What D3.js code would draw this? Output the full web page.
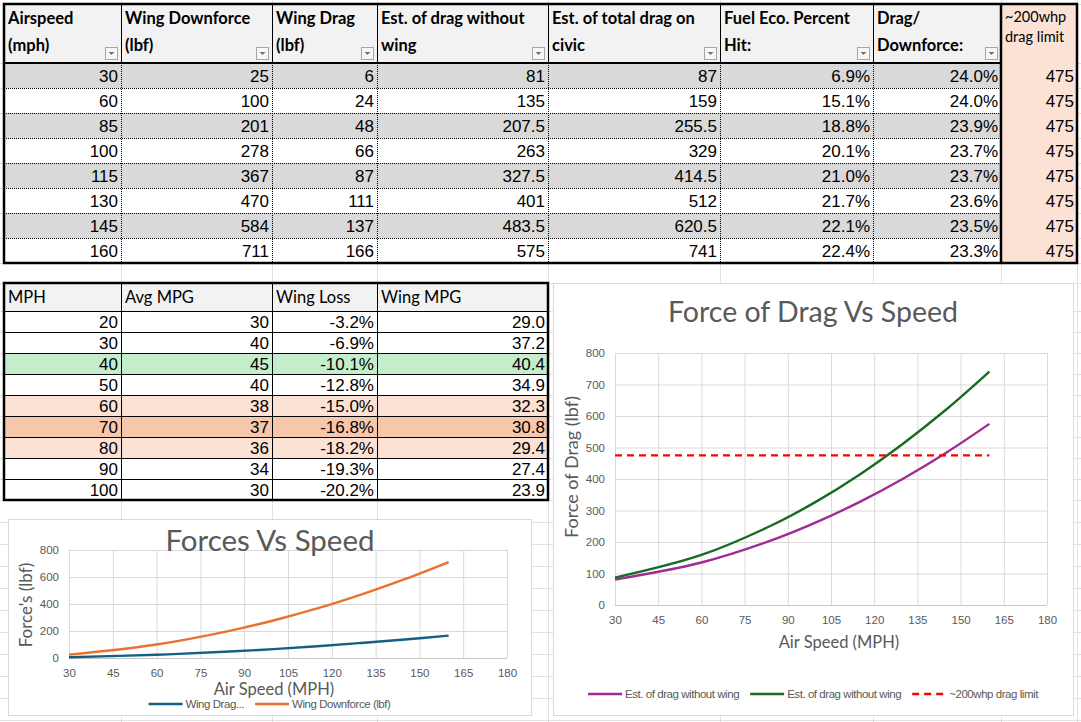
<!DOCTYPE html>
<html>
<head>
<meta charset="utf-8">
<script src="https://cdn.jsdelivr.net/npm/d3@7"></script>
<style>
  body { margin: 0; background: #fff; }
  svg { display: block; }
</style>
</head>
<body>
<svg id="sheet" width="1081" height="722"></svg>
<script>
// ---- top table data ----
const airspeed = [30, 60, 85, 100, 115, 130, 145, 160];
const wingDownforce = [25, 100, 201, 278, 367, 470, 584, 711];
const wingDrag = [6, 24, 48, 66, 87, 111, 137, 166];
const dragWithoutWing = [81, 135, 207.5, 263, 327.5, 401, 483.5, 575];
const totalDrag = [87, 159, 255.5, 329, 414.5, 512, 620.5, 741];
const fuelEcoHit = [6.9, 15.1, 18.8, 20.1, 21.0, 21.7, 22.1, 22.4];
const dragPerDownforce = [24.0, 24.0, 23.9, 23.7, 23.7, 23.6, 23.5, 23.3];
const dragLimit = [475, 475, 475, 475, 475, 475, 475, 475];
const topHeaders = [
  ["Airspeed", "(mph)"],
  ["Wing Downforce", "(lbf)"],
  ["Wing Drag", "(lbf)"],
  ["Est. of drag without", "wing"],
  ["Est. of total drag on", "civic"],
  ["Fuel Eco. Percent", "Hit:"],
  ["Drag/", "Downforce:"],
  ["~200whp", "drag limit"]
];

// ---- mpg table data ----
const mph = [20, 30, 40, 50, 60, 70, 80, 90, 100];
const avgMpg = [30, 40, 45, 40, 38, 37, 36, 34, 30];
const wingLoss = [-3.2, -6.9, -10.1, -12.8, -15.0, -16.8, -18.2, -19.3, -20.2];
const wingMpg = [29.0, 37.2, 40.4, 34.9, 32.3, 30.8, 29.4, 27.4, 23.9];
const mpgHeaders = ["MPH", "Avg MPG", "Wing Loss", "Wing MPG"];

// ---- chart labels ----
const xTicks = [30, 45, 60, 75, 90, 105, 120, 135, 150, 165, 180];
const forcesTicks = [0, 200, 400, 600, 800];
const dragTicks = [0, 100, 200, 300, 400, 500, 600, 700, 800];
const forcesNames = ["Wing Drag...", "Wing Downforce (lbf)"];
const dragNames = ["Est. of drag without wing", "Est. of drag without wing", "~200whp drag limit"];

const svg = d3.select("#sheet");
const HEAD = "Lato, 'Noto Sans', sans-serif";
const NUM = "'Liberation Sans', Arial, sans-serif";

// spreadsheet gridlines
const gridCols = [121, 272, 377, 548, 720, 873, 1001, 1077];
const gridRows = [4].concat(d3.range(63, 264, 25), [283], d3.range(311, 501, 21), d3.range(522, 721, 22));
const grid = svg.append("g").attr("stroke", "#e1e1e1").attr("stroke-width", 1);
grid.selectAll(".gc").data(gridCols).enter().append("line")
  .attr("x1", d => d + 0.5).attr("x2", d => d + 0.5).attr("y1", 0).attr("y2", 722);
grid.selectAll(".gr").data(gridRows).enter().append("line")
  .attr("x1", 0).attr("x2", 1081).attr("y1", d => d + 0.5).attr("y2", d => d + 0.5);

// ================= top table =================
const tCols = [4, 121, 272, 377, 548, 720, 873, 1001, 1077];
const tTop = 4, tHeadBottom = 63, tRowH = 25;
const tBottom = tHeadBottom + tRowH * airspeed.length;
const pct = d => d.toFixed(1) + "%";
const topColumns = [
  { values: airspeed, fmt: d => d },
  { values: wingDownforce, fmt: d => d },
  { values: wingDrag, fmt: d => d },
  { values: dragWithoutWing, fmt: d => d },
  { values: totalDrag, fmt: d => d },
  { values: fuelEcoHit, fmt: pct },
  { values: dragPerDownforce, fmt: pct },
  { values: dragLimit, fmt: d => d }
];
const topTable = svg.append("g");
topTable.append("rect").attr("x", tCols[0]).attr("y", tTop)
  .attr("width", tCols[7] - tCols[0]).attr("height", tHeadBottom - tTop).attr("fill", "#f2f2f2");
topTable.selectAll(".rowbg").data(airspeed).enter().append("rect")
  .attr("x", tCols[0]).attr("y", (d, i) => tHeadBottom + i * tRowH)
  .attr("width", tCols[7] - tCols[0]).attr("height", tRowH)
  .attr("fill", (d, i) => i % 2 === 0 ? "#d9d9d9" : "#ffffff");
topTable.append("rect").attr("x", tCols[7]).attr("y", tTop)
  .attr("width", tCols[8] - tCols[7]).attr("height", tBottom - tTop).attr("fill", "#fbe2d5");

// dotted separators in body
topTable.selectAll(".hdot").data(d3.range(1, airspeed.length)).enter().append("line")
  .attr("x1", tCols[0]).attr("x2", tCols[7])
  .attr("y1", d => tHeadBottom + d * tRowH + 0.5).attr("y2", d => tHeadBottom + d * tRowH + 0.5)
  .attr("stroke", "#000").attr("stroke-dasharray", "1,1");
topTable.selectAll(".vdot").data(tCols.slice(1, 7)).enter().append("line")
  .attr("x1", d => d + 0.5).attr("x2", d => d + 0.5).attr("y1", tHeadBottom).attr("y2", tBottom)
  .attr("stroke", "#000").attr("stroke-dasharray", "1,1");
// header separators
topTable.selectAll(".vhead").data(tCols.slice(1, 7)).enter().append("line")
  .attr("x1", d => d + 0.5).attr("x2", d => d + 0.5).attr("y1", tTop).attr("y2", tHeadBottom)
  .attr("stroke", "#000").attr("stroke-width", 1);
topTable.append("line").attr("x1", tCols[0]).attr("x2", tCols[7]).attr("y1", tHeadBottom).attr("y2", tHeadBottom)
  .attr("stroke", "#000").attr("stroke-width", 2);

// header text
topHeaders.forEach((lines, c) => {
  const last = c === 7;
  topTable.append("g").selectAll("text").data(lines).enter().append("text")
    .attr("x", tCols[c] + 4)
    .attr("y", (d, i) => last ? 22 + i * 20 : 24 + i * 27)
    .attr("font-family", HEAD)
    .attr("font-weight", last ? 400 : 700)
    .attr("font-size", last ? 14.5 : 16.5)
    .attr("fill", "#000")
    .text(d => d);
});
// filter buttons
const btn = topTable.selectAll(".btn").data(tCols.slice(1, 8)).enter().append("g")
  .attr("transform", d => `translate(${d - 16},47)`);
btn.append("rect").attr("x", 0.5).attr("y", 0.5).attr("width", 12).attr("height", 12)
  .attr("fill", "#f7f7f7").attr("stroke", "#a6a6a6");
btn.append("path").attr("d", "M3.5,5 L9.5,5 L6.5,8 Z").attr("fill", "#737373");

// body numbers
topColumns.forEach((col, c) => {
  topTable.append("g").selectAll("text").data(col.values).enter().append("text")
    .attr("x", tCols[c + 1] - 3)
    .attr("y", (d, i) => tHeadBottom + i * tRowH + tRowH / 2)
    .attr("dy", "0.36em")
    .attr("text-anchor", "end")
    .attr("font-family", NUM).attr("font-size", 17).attr("fill", "#000")
    .text(d => col.fmt(d));
});
// thick borders
topTable.append("rect").attr("x", tCols[0]).attr("y", tTop)
  .attr("width", tCols[8] - tCols[0]).attr("height", tBottom - tTop)
  .attr("fill", "none").attr("stroke", "#000").attr("stroke-width", 2.5);
topTable.append("line").attr("x1", tCols[7]).attr("x2", tCols[7]).attr("y1", tTop).attr("y2", tBottom)
  .attr("stroke", "#000").attr("stroke-width", 2.5);

// ================= mpg table =================
const mCols = [4, 121, 272, 377, 548];
const mTop = 283, mHeadBottom = 311, mRowH = 21;
const mBottom = mHeadBottom + mRowH * mph.length;
const rowFill = { 40: "#c4eecb", 60: "#fbe2d5", 70: "#f7c7ac", 80: "#fbe2d5" };
const mpgColumns = [
  { values: mph, fmt: d => d },
  { values: avgMpg, fmt: d => d },
  { values: wingLoss, fmt: d => d.toFixed(1) + "%" },
  { values: wingMpg, fmt: d => d.toFixed(1) }
];
const mt = svg.append("g");
mt.append("rect").attr("x", mCols[0]).attr("y", mTop)
  .attr("width", mCols[4] - mCols[0]).attr("height", mHeadBottom - mTop).attr("fill", "#f2f2f2");
mt.selectAll(".rowbg").data(mph).enter().append("rect")
  .attr("x", mCols[0]).attr("y", (d, i) => mHeadBottom + i * mRowH)
  .attr("width", mCols[4] - mCols[0]).attr("height", mRowH)
  .attr("fill", d => rowFill[d] || "#ffffff");
mt.selectAll(".hl").data(d3.range(0, mph.length)).enter().append("line")
  .attr("x1", mCols[0]).attr("x2", mCols[4])
  .attr("y1", d => mHeadBottom + d * mRowH + 0.5).attr("y2", d => mHeadBottom + d * mRowH + 0.5)
  .attr("stroke", "#000");
mt.selectAll(".vl").data(mCols.slice(1, 4)).enter().append("line")
  .attr("x1", d => d + 0.5).attr("x2", d => d + 0.5).attr("y1", mTop).attr("y2", mBottom)
  .attr("stroke", "#000");
mt.selectAll(".mh").data(mpgHeaders).enter().append("text")
  .attr("x", (d, i) => mCols[i] + 4).attr("y", (mTop + mHeadBottom) / 2).attr("dy", "0.36em")
  .attr("font-family", HEAD).attr("font-size", 16.5).attr("fill", "#000")
  .text(d => d);
mpgColumns.forEach((col, c) => {
  mt.append("g").selectAll("text").data(col.values).enter().append("text")
    .attr("x", mCols[c + 1] - 3)
    .attr("y", (d, i) => mHeadBottom + i * mRowH + mRowH / 2)
    .attr("dy", "0.36em")
    .attr("text-anchor", "end")
    .attr("font-family", NUM).attr("font-size", 17).attr("fill", "#000")
    .text(d => col.fmt(d));
});
mt.append("rect").attr("x", mCols[0]).attr("y", mTop)
  .attr("width", mCols[4] - mCols[0]).attr("height", mBottom - mTop)
  .attr("fill", "none").attr("stroke", "#000").attr("stroke-width", 2.5);

// ================= charts =================
function drawChart(o) {
  const g = svg.append("g");
  g.append("rect").attr("x", o.box[0] + 0.5).attr("y", o.box[1] + 0.5)
    .attr("width", o.box[2] - o.box[0]).attr("height", o.box[3] - o.box[1])
    .attr("fill", "#fff").attr("stroke", "#d9d9d9");

  const x = d3.scaleLinear().domain([30, 180]).range([o.plot[0], o.plot[2]]);
  const y = d3.scaleLinear().domain([0, 800]).range([o.plot[3], o.plot[1]]);

  // gridlines
  g.append("g").attr("transform", `translate(0,${o.plot[3]})`)
    .call(d3.axisBottom(x).tickValues(xTicks).tickSize(o.plot[1] - o.plot[3]).tickFormat(""))
    .call(a => a.select(".domain").remove())
    .call(a => a.selectAll("line").attr("stroke", "#d9d9d9"));
  g.append("g").attr("transform", `translate(${o.plot[0]},0)`)
    .call(d3.axisLeft(y).tickValues(o.yTicks).tickSize(o.plot[0] - o.plot[2]).tickFormat(""))
    .call(a => a.select(".domain").remove())
    .call(a => a.selectAll("line").attr("stroke", "#d9d9d9"));
  g.append("line").attr("x1", o.plot[0]).attr("x2", o.plot[2])
    .attr("y1", o.plot[3] + 0.5).attr("y2", o.plot[3] + 0.5).attr("stroke", "#c6c6c6");

  // tick labels
  g.append("g").attr("transform", `translate(0,${o.plot[3]})`)
    .call(d3.axisBottom(x).tickValues(xTicks).tickSize(0).tickPadding(15))
    .call(a => a.select(".domain").remove())
    .call(a => a.selectAll("text").attr("font-family", NUM).attr("font-size", 11.5)
      .attr("fill", "#595959").attr("dy", "0.36em").attr("y", 15));
  g.append("g").attr("transform", `translate(${o.plot[0]},0)`)
    .call(d3.axisLeft(y).tickValues(o.yTicks).tickSize(0).tickPadding(10))
    .call(a => a.select(".domain").remove())
    .call(a => a.selectAll("text").attr("font-family", NUM).attr("font-size", 11.5).attr("fill", "#595959"));

  // titles
  g.append("text").attr("x", o.titleXY[0]).attr("y", o.titleXY[1]).attr("text-anchor", "middle")
    .attr("font-family", HEAD).attr("font-size", o.titleSize).attr("fill", "#595959").text(o.title);
  g.append("text").attr("x", (o.plot[0] + o.plot[2]) / 2 + o.xTitleDx).attr("y", o.xTitleY)
    .attr("text-anchor", "middle").attr("font-family", HEAD).attr("font-size", 16.5)
    .attr("fill", "#595959").text("Air Speed (MPH)");
  g.append("text").attr("transform", `translate(${o.yTitleXY[0]},${o.yTitleXY[1]}) rotate(-90)`)
    .attr("text-anchor", "middle").attr("dy", "0.36em").attr("font-family", HEAD).attr("font-size", o.yTitleSize)
    .attr("fill", "#595959").text(o.yTitle);

  // series
  const line = d3.line().x((d, i) => x(airspeed[i])).y(d => y(d));
  o.series.forEach(s => {
    line.curve(s.straight ? d3.curveLinear : d3.curveCatmullRom);
    g.append("path").datum(s.values).attr("d", line)
      .attr("fill", "none").attr("stroke", s.color).attr("stroke-width", 2.4)
      .attr("stroke-dasharray", s.dash || null);
  });

  // legend, centred in the chart box
  const leg = g.append("g");
  let cx = 0;
  o.series.forEach(s => {
    const item = leg.append("g").attr("transform", `translate(${cx},0)`);
    item.append("line").attr("x1", 0).attr("x2", 34).attr("y1", 0).attr("y2", 0)
      .attr("stroke", s.color).attr("stroke-width", 2.4).attr("stroke-dasharray", s.dash || null);
    const t = item.append("text").attr("x", 37).attr("dy", "0.35em")
      .attr("font-family", NUM).attr("font-size", 11.5).attr("letter-spacing", -0.45)
      .attr("fill", "#595959").text(s.name);
    cx += 37 + t.node().getComputedTextLength() + 11;
  });
  const legW = cx - 11;
  leg.attr("transform", `translate(${(o.box[0] + o.box[2]) / 2 - legW / 2},${o.legendY})`);
}

drawChart({
  box: [8, 519, 531, 715],
  plot: [69, 550, 507, 658],
  yTicks: forcesTicks,
  title: "Forces Vs Speed",
  titleSize: 29.5,
  titleXY: [270, 551],
  xTitleDx: -14,
  xTitleY: 695,
  yTitle: "Force's (lbf)",
  yTitleSize: 17,
  yTitleXY: [26, 605],
  legendY: 704,
  series: [
    { name: forcesNames[0], values: wingDrag, color: "#156082" },
    { name: forcesNames[1], values: wingDownforce, color: "#e97132" }
  ]
});

drawChart({
  box: [553, 283, 1073, 715],
  plot: [615, 353, 1047, 605],
  yTicks: dragTicks,
  title: "Force of Drag Vs Speed",
  titleSize: 28.5,
  titleXY: [813, 322],
  xTitleDx: 8,
  xTitleY: 648,
  yTitle: "Force of Drag (lbf)",
  yTitleSize: 18,
  yTitleXY: [572, 467],
  legendY: 694,
  series: [
    { name: dragNames[0], values: dragWithoutWing, color: "#a02b93" },
    { name: dragNames[1], values: totalDrag, color: "#196b24" },
    { name: dragNames[2], values: dragLimit, color: "#ff0000", dash: "7,5", straight: true }
  ]
});
</script>
</body>
</html>
